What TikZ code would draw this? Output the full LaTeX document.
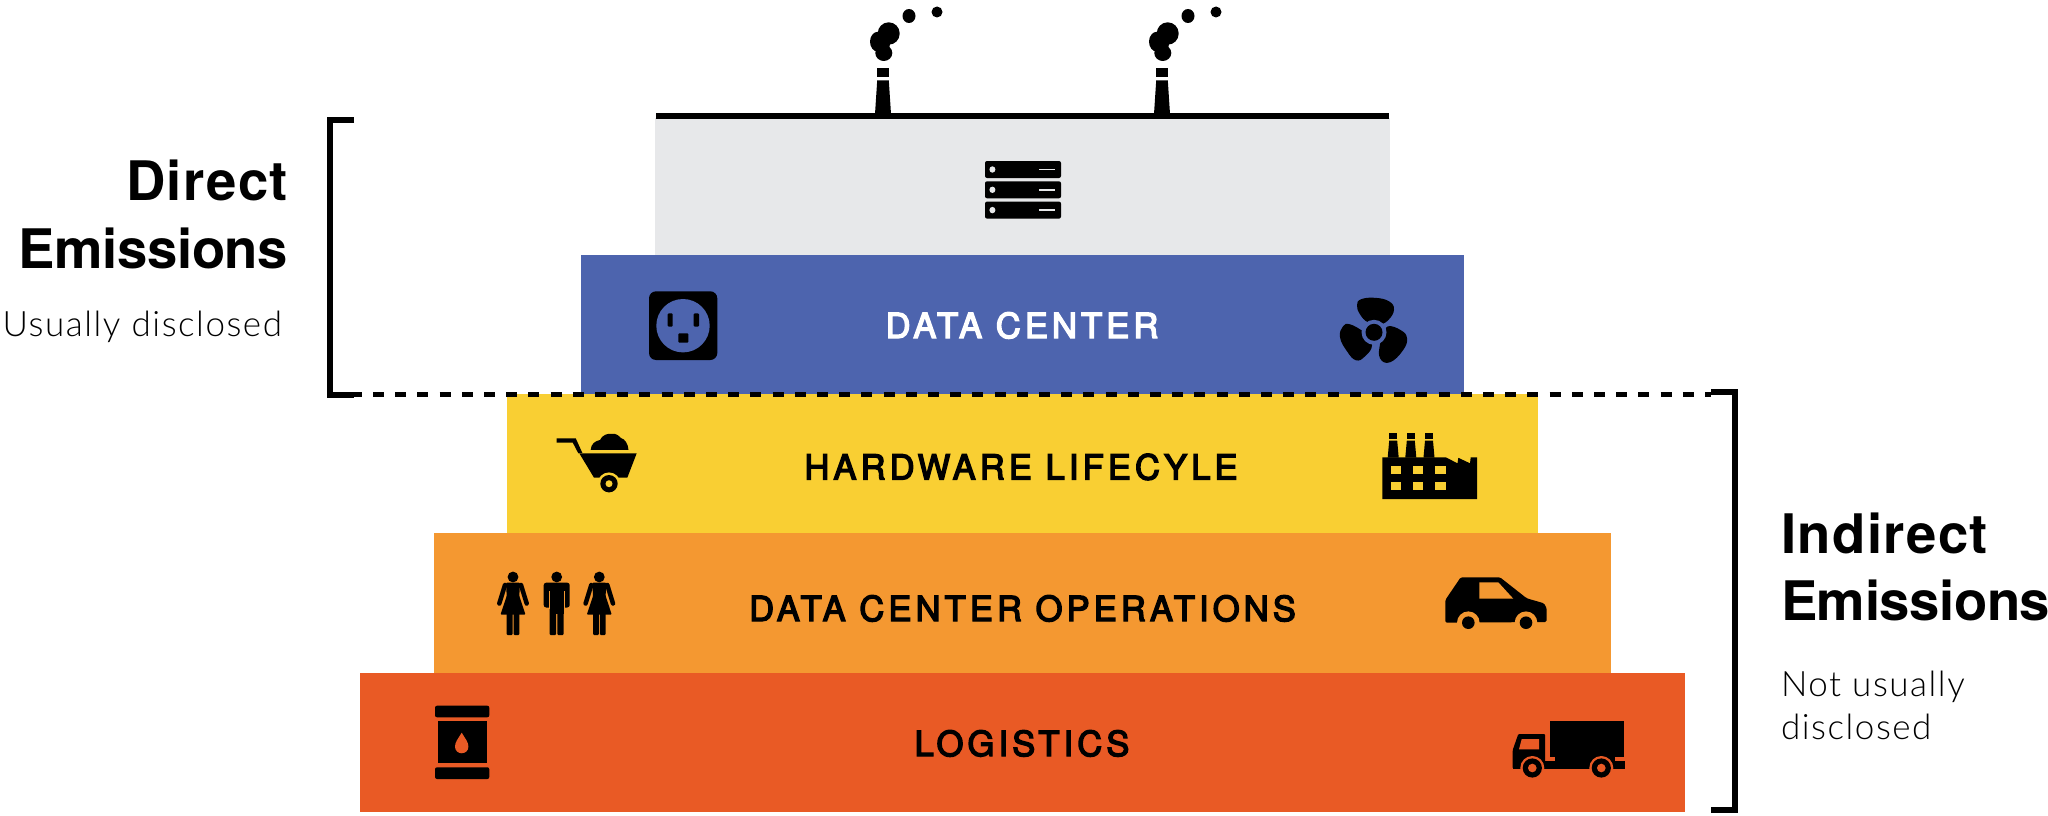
\documentclass[tikz,border=0pt]{standalone}
\usepackage{fontspec}
\setmainfont{TeX Gyre Heros}
\newfontfamily\lightfont{Lato Light}
\tikzset{
  every node/.style={inner sep=0pt,outer sep=0pt},
  barlabel/.style={font=\fontsize{34.5}{34.5}\selectfont\addfontfeature{FakeBold=4,LetterSpace=12},anchor=base},
  head/.style={font=\fontsize{54.5}{64}\selectfont\bfseries\addfontfeature{LetterSpace=-0.8},anchor=base east},
  headl/.style={font=\fontsize{54.5}{64}\selectfont\bfseries\addfontfeature{LetterSpace=-0.8},anchor=base west},
  headwide/.style={font=\fontsize{54.5}{64}\selectfont\bfseries\addfontfeature{LetterSpace=2.6}},
  sub/.style={font=\fontsize{35}{42}\lightfont\addfontfeature{LetterSpace=4.4},anchor=base west},
  bracket/.style={draw=black,line width=6pt}
}
\definecolor{cgray}{HTML}{E7E8EA}
\definecolor{cblue}{HTML}{4D64AE}
\definecolor{cyellow}{HTML}{F9CF33}
\definecolor{corange}{HTML}{F49831}
\definecolor{cred}{HTML}{E95A25}
\begin{document}
\begin{tikzpicture}[x=1pt,y=-1pt]
\useasboundingbox (0,0) rectangle (2048,816);
\fill[cgray] (655,118) rectangle (1390,255);
\fill[cblue] (581,255) rectangle (1464,394);
\fill[cyellow] (507,394) rectangle (1538,533);
\fill[corange] (434,533) rectangle (1611,673);
\fill[cred] (360,673) rectangle (1685,812);
% roof
\fill (656,113.3) rectangle (1389,119);
% stacks
\foreach \dx in {0,279}{
\begin{scope}[xshift=\dx pt]
\fill (877,68) rectangle (889,77.5);
\fill (877.2,80.5) -- (888.8,80.5) -- (891,114) -- (875,114) -- cycle;
\fill (883.8,53) ellipse (8.5 and 8);
\fill (878,41.7) ellipse (8 and 10);
\fill (888.7,33.5) ellipse (11 and 11.2);
\fill (882,44) circle (8);
\fill (909,16) ellipse (6.5 and 7);
\fill (937,12) ellipse (5.5 and 5.5);
\end{scope}}
% server
\foreach \yy in {161,181.3,201.6}{
\fill[rounded corners=2pt] (985,\yy) rectangle (1061,\yy+17);
\fill[cgray] (992.4,\yy+8.5) ellipse (3 and 3.2);
\fill[cgray] (1038.5,\yy+7.6) rectangle (1055,\yy+9.4);
}
% socket
\fill[rounded corners=7pt] (649,291.3) rectangle (717.3,360);
\fill[cblue] (683,325.7) circle (26.7);
\fill[rounded corners=1pt] (667.7,313.3) rectangle (672.7,326.7);
\fill[rounded corners=1pt] (693.7,313.3) rectangle (699,326.7);
\fill[rounded corners=1pt] (678.3,333.3) rectangle (688.3,342.7);
% fan
\begin{scope}[shift={(1374,332.3)}]
\fill plot[smooth cycle,tension=.75] coordinates {(-6,-10) (-14,-18) (-17,-27) (-13,-33) (1,-34.5) (15,-31) (20,-23) (15,-13) (6,-8)};
\fill plot[smooth cycle,tension=.75] coordinates {(-9,2) (-2,13) (-9,24) (-18,28) (-27,19) (-34,5) (-31,-6) (-24,-8) (-11,-1)};
\fill plot[smooth cycle,tension=.75] coordinates {(6,12) (6,26) (16,30) (29,18) (33,6) (27,-2) (14,-6) (10,3)};
\fill[cblue] (0,0) circle (12.5);
\fill (0,0) circle (8.5);
\end{scope}
% wheelbarrow
\fill (556.7,438.3) -- (575.7,438.3) -- (582.3,452.8) -- (578.3,453.3) -- (572.7,442.5) -- (556.7,442.5) -- cycle;
\fill (579.3,453.3) -- (636.7,453.3) -- (627.3,477.7) -- (594,477.7) -- cycle;
\fill (590.7,449.8) .. controls (591,444) and (595,441) .. (600,440) .. controls (602,435) and (608,433) .. (612,434) .. controls (616,433) and (619,436) .. (621,438) .. controls (625,439) and (628,444) .. (628.5,449.8) -- cycle;
\fill[cyellow] (609,483.7) circle (11.3);
\fill (609,483.7) circle (8.7);
\fill[cyellow] (609,483.7) circle (3.5);
% factory
\foreach \cx in {1393.2,1410.8,1429}{
\fill (\cx-4.2,433) rectangle (\cx+4.2,439);
\fill (\cx-4,440.7) -- (\cx+4,440.7) -- (\cx+5.5,457.5) -- (\cx-5.5,457.5) -- cycle;
}
\fill (1382.3,457.3) -- (1445.7,457.3) -- (1457.5,463.3) -- (1458.3,457.8) -- (1470,463.3) -- (1470.7,457.3) -- (1477,457.3) -- (1477,499) -- (1382.3,499) -- cycle;
\foreach \wx in {1390.7,1412.7,1435.3}{
\foreach \wy in {465.7,481.7}{
\fill[cyellow] (\wx,\wy) rectangle (\wx+10.7,\wy+8.7);
}}
% people
\newcommand{\womanicon}[1]{
\begin{scope}[xshift=#1 pt]
\fill (0,577) circle (5.4);
\fill[rounded corners=1pt] (-7,582.7) -- (7,582.7) -- (6.3,596) -- (12.5,614.7) -- (-12.5,614.7) -- (-6.3,596) -- cycle;
\draw[line width=4.5pt,line cap=round] (-8,585) -- (-13.7,603.5);
\draw[line width=4.5pt,line cap=round] (8,585) -- (13.7,603.5);
\fill[rounded corners=1pt] (-6.3,612) rectangle (-.4,635);
\fill[rounded corners=1pt] (.6,612) rectangle (6.3,635);
\end{scope}}
\womanicon{513}
\womanicon{599.3}
\begin{scope}[xshift=556.7pt]
\fill (0,577) circle (5.4);
\fill[rounded corners=2.5pt] (-13,582.7) rectangle (13,607.5);
\fill (-7,590) rectangle (7,614);
\fill[rounded corners=1pt] (-7,605) rectangle (-.5,635);
\fill[rounded corners=1pt] (.7,605) rectangle (7,635);
\fill[corange] (-8.2,591) rectangle (-7.2,608.5);
\fill[corange] (7.2,591) rectangle (8.2,608.5);
\end{scope}
% car
\fill[rounded corners=1.5pt] (1445.3,600) -- (1445.3,622.7) -- (1546.7,622) -- (1546.7,608.3) -- (1544,603.3) -- (1526.7,598.3) -- (1500,577.3) -- (1460.7,577.3) -- cycle;
\fill[corange] (1479.3,582.3) -- (1498.3,582.3) -- (1513.3,598.7) -- (1479.3,598.7) -- cycle;
\fill[corange] (1468.3,622.7) circle (11.3);
\fill[corange] (1526,622.7) circle (11.3);
\fill (1468.3,622.7) circle (6.3);
\fill (1526,622.7) circle (6.3);
% truck
\fill (1550,720.7) rectangle (1624.3,757.3);
\fill (1555,757) rectangle (1615,768.7);
\fill (1512.7,760.7) rectangle (1625,768.7);
\fill[rounded corners=1pt] (1512.7,750) -- (1518.3,734) -- (1545,734) -- (1545,768.7) -- (1512.7,768.7) -- cycle;
\fill[cred] (1521.7,739) -- (1539,739) -- (1539,749.3) -- (1519,749.3) -- cycle;
\foreach \wx in {1532.3,1601.3}{
\fill[cred] (\wx,768) circle (12);
\fill (\wx,768) circle (9.6);
\fill[cred] (\wx,768) circle (4.3);
}
% barrel
\fill[rounded corners=2pt] (435,705.7) rectangle (489.3,717.3);
\fill (437.7,721) rectangle (486.7,762.7);
\fill[rounded corners=2pt] (435,767.3) rectangle (489.3,779);
\fill[cred] (461.7,732.7) .. controls (458,739) and (455,742) .. (455,746.5) .. controls (455,755.5) and (468.4,755.5) .. (468.4,746.5) .. controls (468.4,742) and (465.4,739) .. (461.7,732.7) -- cycle;
% labels
\node[barlabel,text=white] (dc) at (1022,338) {DATA CENTER};
\node[barlabel] (hw) at (1021,479.5) {HARDWARE LIFECYLE};
\node[barlabel] (ops) at (1022.5,621) {DATA CENTER OPERATIONS};
\node[barlabel] (log) at (1022,756) {LOGISTICS};
\node[headwide,anchor=base east] (direct) at (288,200.7) {Direct};
\node[head] (emis1) at (288,268) {Emissions};
\node[sub,anchor=base east] (usu) at (282,336.7) {Usually disclosed};
\node[headwide,anchor=base west] (ind) at (1781,553) {Indirect};
\node[headl] (emis2) at (1781,620.7) {Emissions};
\node[sub] (not1) at (1781,696.7) {Not usually};
\node[sub] (not2) at (1781,739) {disclosed};
% brackets
\coordinate (la) at (354,119.7);
\coordinate (lb) at (330,119.7);
\coordinate (lc) at (330,395);
\coordinate (le) at (354,395);
\coordinate (ra) at (1711,392.3);
\coordinate (rb) at (1735.3,392.3);
\coordinate (rc) at (1735.3,809.7);
\coordinate (rd) at (1711,809.7);
\coordinate (da) at (354,394.3);
\coordinate (db) at (1711,394.3);
\draw[bracket] (la) -- (lb) -- (lc) -- (le);
\draw[bracket] (ra) -- (rb) -- (rc) -- (rd);
\draw[line width=5.3pt,dash pattern=on 11pt off 11.2pt,dash phase=3.2pt] (da) -- (db);
\end{tikzpicture}
\end{document}
